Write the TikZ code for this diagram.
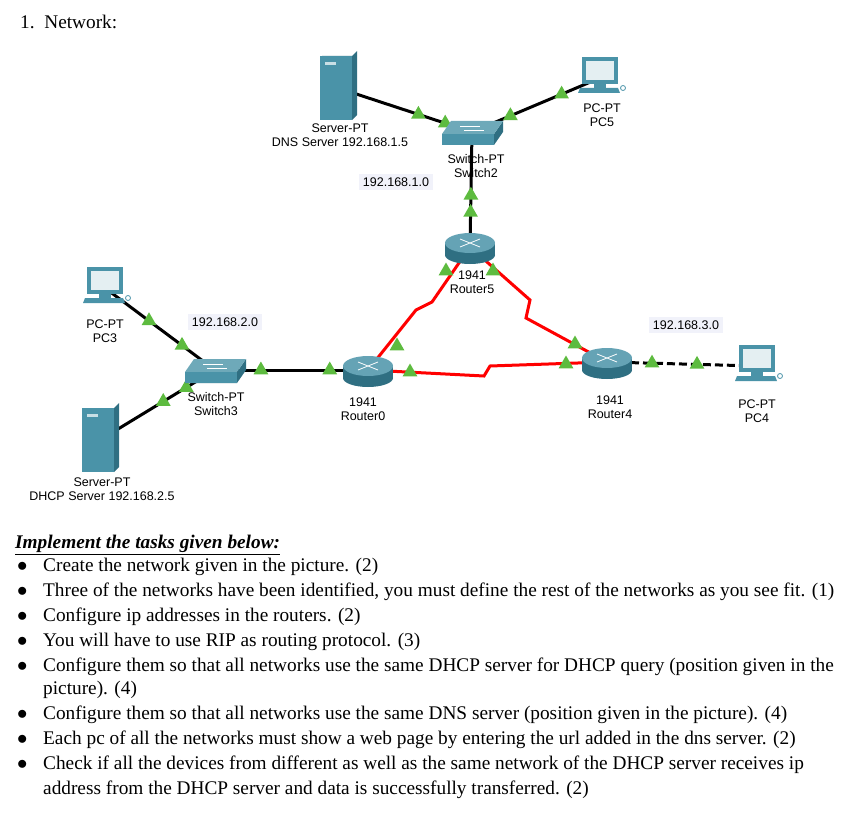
\documentclass[tikz,border=0pt]{standalone}
\usepackage{fontspec}
\setmainfont{Liberation Serif}
\newfontfamily\lsans{Liberation Sans}
\usetikzlibrary{shapes.geometric,calc}
\definecolor{dev}{HTML}{4A93A8}
\definecolor{devd}{HTML}{2F6F82}
\definecolor{tri}{HTML}{5DBB3F}
\definecolor{netbg}{HTML}{F1F2FA}
\begin{document}
\begin{tikzpicture}[x=1pt,y=-1pt,
  lbl/.style={font=\lsans\fontsize{12.5}{14}\selectfont,align=center,inner sep=0pt},
  net/.style={font=\lsans\fontsize{12.5}{14}\selectfont,fill=netbg,inner sep=4pt},
  blk/.style={line width=3pt,black},
  ser/.style={line width=3pt,red},
  tr/.style={regular polygon,regular polygon sides=3,fill=tri,minimum size=17pt,inner sep=0pt},
  body/.style={font=\fontsize{19.3}{22}\selectfont,anchor=west,inner sep=0pt}]
\useasboundingbox (0,0) rectangle (859,837);
\coordinate (dns) at (338,88);
\coordinate (sw2) at (472,132);
\coordinate (pc5) at (600,78);
\coordinate (r5) at (470,247);
\coordinate (r0) at (368,370);
\coordinate (r4) at (607,362);
\coordinate (sw3) at (215,370);
\coordinate (pc3) at (105,288);
\coordinate (dhcp) at (100,440);
\coordinate (pc4) at (757,366);
% links
\draw[blk] (dns) -- (sw2) node[tr,pos=0.6]{} node[tr,pos=0.8]{};
\draw[blk] (pc5) -- (sw2) node[tr,pos=0.3]{} node[tr,pos=0.7]{};
\draw[blk] (sw2) -- (r5) node[tr,pos=0.55]{} node[tr,pos=0.7]{};
\draw[blk] (pc3) -- (sw3) node[tr,pos=0.4]{} node[tr,pos=0.7]{};
\draw[blk] (dhcp) -- (sw3) node[tr,pos=0.55]{} node[tr,pos=0.75]{};
\draw[blk] (sw3) -- (r0) node[tr,pos=0.3]{} node[tr,pos=0.75]{};
\draw[blk,dash pattern=on 8pt off 4pt] (r4) -- (pc4) node[tr,pos=0.3]{} node[tr,pos=0.6]{};
\draw[ser] (r5) -- (432,302) -- (416,310) -- (r0);
\draw[ser] (r5) -- (530,300) -- (526,318) -- (r4);
\draw[ser] (r0) -- (484,376) -- (490,366) -- (r4);
\node[tr] at (446,271) {}; \node[tr] at (493,271) {};
\node[tr] at (397,346) {}; \node[tr] at (410,372) {};
\node[tr] at (575,344) {}; \node[tr] at (566,364) {};
% servers
\foreach \p in {dns,dhcp}{
  \fill[devd] ($(\p)+(-16,-32)$) -- ($(\p)+(14,-32)$) -- ($(\p)+(19,-37)$) -- ($(\p)+(19,27)$) -- ($(\p)+(14,32)$) -- cycle;
  \fill[dev] ($(\p)+(-18,-32)$) rectangle ($(\p)+(14,32)$);
  \fill[white!70!dev] ($(\p)+(-13,-26)$) rectangle ($(\p)+(-2,-23)$);
}
% PCs
\foreach \p in {pc5,pc3,pc4}{
  \fill[dev] ($(\p)+(-18,-21)$) rectangle ($(\p)+(18,6)$);
  \fill[white!85!dev] ($(\p)+(-14,-17)$) rectangle ($(\p)+(14,2)$);
  \fill[dev] ($(\p)+(-6,6)$) rectangle ($(\p)+(6,10)$);
  \fill[dev] ($(\p)+(-20,10)$) -- ($(\p)+(18,10)$) -- ($(\p)+(20,15)$) -- ($(\p)+(-22,15)$) -- cycle;
  \draw[dev,thick] ($(\p)+(23,10)$) circle (2.5);
}
% switches
\foreach \p in {sw2,sw3}{
  \fill[devd] ($(\p)+(-30,2)$) -- ($(\p)+(22,2)$) -- ($(\p)+(31,-11)$) -- ($(\p)+(31,0)$) -- ($(\p)+(22,13)$) -- ($(\p)+(-30,13)$) -- cycle;
  \fill[dev!80!white] ($(\p)+(-30,2)$) -- ($(\p)+(-21,-11)$) -- ($(\p)+(31,-11)$) -- ($(\p)+(22,2)$) -- cycle;
  \fill[dev] ($(\p)+(-30,2)$) rectangle ($(\p)+(22,13)$);
  \draw[white,thin] ($(\p)+(-12,-6)$) -- ($(\p)+(8,-6)$) ($(\p)+(-8,-2)$) -- ($(\p)+(12,-2)$);
}
% routers
\foreach \p in {r5,r0,r4}{
  \fill[devd] ($(\p)+(-25,-4)$) rectangle ($(\p)+(25,8)$);
  \fill[devd] ($(\p)+(0,8)$) ellipse (25 and 9);
  \fill[dev!85!white] ($(\p)+(0,-4)$) ellipse (25 and 10);
  \draw[white,thick] ($(\p)+(-10,-8)$) -- ($(\p)+(10,0)$) ($(\p)+(-10,0)$) -- ($(\p)+(10,-8)$);
}
% labels
\node[lbl] (ldns) at (340,135) {Server-PT\\DNS Server 192.168.1.5};
\node[lbl] (lsw2) at (476,166) {Switch-PT\\Switch2};
\node[net] (n1) at (396,182) {192.168.1.0};
\node[lbl] (lpc5) at (602,115) {PC-PT\\PC5};
\node[lbl] (lr5) at (472,282) {1941\\Router5};
\node[lbl] (lpc3) at (105,331) {PC-PT\\PC3};
\node[net] (n2) at (225,322) {192.168.2.0};
\node[lbl] (lsw3) at (216,404) {Switch-PT\\Switch3};
\node[lbl] (lr0) at (363,409) {1941\\Router0};
\node[net] (n3) at (686,325) {192.168.3.0};
\node[lbl] (lr4) at (610,407) {1941\\Router4};
\node[lbl] (lpc4) at (757,411) {PC-PT\\PC4};
\node[lbl] (ldhcp) at (102,489) {Server-PT\\DHCP Server 192.168.2.5};
% text
\node[body] (title) at (20,22) {1.\enspace Network:};
\node[body] (head) at (15,545) {\textbf{\textit{\underline{Implement the tasks given below:}}}};
\foreach \y/\t in {567/{Create the network given in the picture. (2)},
  592/{Three of the networks have been identified, you must define the rest of the networks as you see fit. (1)},
  617/{Configure ip addresses in the routers. (2)},
  642/{You will have to use RIP as routing protocol. (3)},
  667/{Configure them so that all networks use the same DHCP server for DHCP query (position given in the},
  715/{Configure them so that all networks use the same DNS server (position given in the picture). (4)},
  740/{Each pc of all the networks must show a web page by entering the url added in the dns server. (2)},
  765/{Check if all the devices from different as well as the same network of the DHCP server receives ip}}{
  \node[body] at (17,\y) {$\bullet$};
  \node[body] at (43,\y) {\t};
}
\node[body] (c1) at (43,690) {picture). (4)};
\node[body] (c2) at (43,790) {address from the DHCP server and data is successfully transferred. (2)};
\end{tikzpicture}
\end{document}
